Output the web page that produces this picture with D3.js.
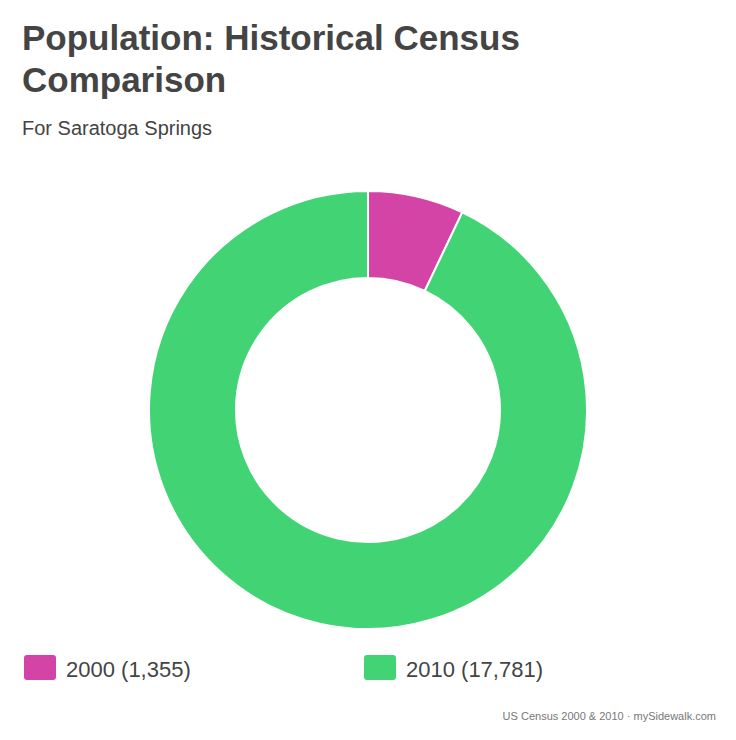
<!DOCTYPE html>
<html><head><meta charset="utf-8">
<script src="https://cdn.jsdelivr.net/npm/d3@7"></script>
<style>body{margin:0;background:#fff}</style>
</head><body>
<svg id="c" width="736" height="740"></svg>
<script>
const categories = ["2000", "2010"];
const values = [1355, 17781];
const colors = ["#d444a6", "#42d474"];

const svg = d3.select("#c");
const font = "Helvetica, 'Liberation Sans', Arial, sans-serif";
svg.append("text").attr("x",22).attr("y",50).attr("font-family",font).attr("font-weight","bold").attr("font-size",35).attr("fill","#444").text("Population: Historical Census");
svg.append("text").attr("x",22).attr("y",92).attr("font-family",font).attr("font-weight","bold").attr("font-size",35).attr("fill","#444").text("Comparison");
svg.append("text").attr("x",22).attr("y",135).attr("font-family",font).attr("font-size",20).attr("fill","#444").text("For Saratoga Springs");

const pie = d3.pie().sort(null).value(d=>d)(values);
const arc = d3.arc().innerRadius(132).outerRadius(219);
const g = svg.append("g").attr("transform","translate(368,410)");
g.selectAll("path").data(pie).join("path").attr("d",arc).attr("fill",(d,i)=>colors[i]).attr("stroke","#fff").attr("stroke-width",2);

const lx = d3.scalePoint().domain(categories).range([24,364]);
const lg = svg.selectAll("g.leg").data(categories).join("g").attr("transform",d=>`translate(${lx(d)},655)`);
lg.append("rect").attr("width",32).attr("height",25).attr("rx",3).attr("fill",(d,i)=>colors[i]);
lg.append("text").attr("x",42).attr("y",22).attr("font-family",font).attr("font-size",22).attr("fill","#444")
  .text((d,i)=>`${d} (${d3.format(",")(values[i])})`);

svg.append("text").attr("x",716).attr("y",720).attr("text-anchor","end").attr("font-family",font).attr("font-size",11).attr("fill","#777").text("US Census 2000 & 2010 · mySidewalk.com");
</script>
</body></html>
